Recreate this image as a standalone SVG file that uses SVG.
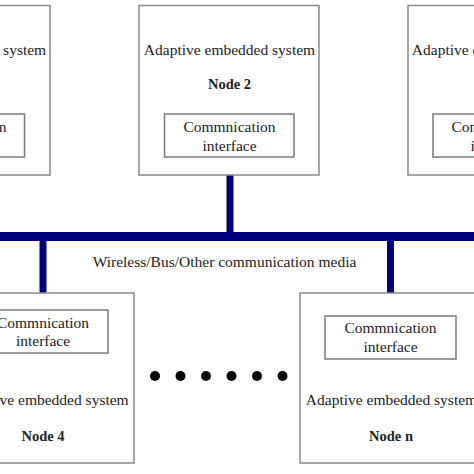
<svg xmlns="http://www.w3.org/2000/svg" width="474" height="474" viewBox="0 0 474 474">
<style>
.box{fill:#fff;stroke:#8a8a8a;stroke-width:1.5}
.ibox{fill:#fff;stroke:#7a7a7a;stroke-width:1.5}
.t{font-family:"Liberation Serif","Times New Roman",serif;font-size:15.5px;fill:#222;text-anchor:middle}
.b{font-weight:bold;font-size:14.5px}
.bus{stroke:#00007f;fill:none}
</style>
<rect width="474" height="474" fill="#fff"/>
<g id="connectors">
<line class="bus" x1="0" y1="236.5" x2="474" y2="236.5" stroke-width="9"/>
<line class="bus" x1="230" y1="157" x2="230" y2="234" stroke-width="7"/>
<line class="bus" x1="43" y1="239" x2="43" y2="310" stroke-width="7"/>
<line class="bus" x1="390.5" y1="239" x2="390.5" y2="316" stroke-width="7"/>
<text class="t" x="224.5" y="267">Wireless/Bus/Other communication media</text>
</g>
<g id="node1">
<rect class="box" x="-129" y="5.5" width="179" height="169.5"/>
<text class="t" x="-39.5" y="55">Adaptive embedded system</text>
<rect class="ibox" x="-104.5" y="114" width="129" height="43"/>
<text class="t" x="-39.5" y="132">Commnication</text>
<text class="t" x="-39.5" y="151">interface</text>
</g>
<g id="node2">
<rect class="box" x="139" y="5.5" width="180" height="169.5"/>
<text class="t" x="229.5" y="55">Adaptive embedded system</text>
<text class="t b" x="229.5" y="89">Node 2</text>
<rect class="ibox" x="164.5" y="114" width="129.5" height="43"/>
<text class="t" x="229.5" y="132">Commnication</text>
<text class="t" x="229.5" y="151">interface</text>
</g>
<g id="node3">
<rect class="box" x="408" y="5.5" width="180" height="169.5"/>
<text class="t" x="497.5" y="55">Adaptive embedded system</text>
<rect class="ibox" x="433" y="114" width="130" height="43"/>
<text class="t" x="497.5" y="132">Commnication</text>
<text class="t" x="497.5" y="151">interface</text>
</g>
<g id="node4">
<rect class="box" x="-46" y="293" width="180" height="170"/>
<rect class="ibox" x="-22" y="310" width="130" height="43"/>
<text class="t" x="43" y="327.5">Commnication</text>
<text class="t" x="43" y="346">interface</text>
<text class="t" x="43" y="405">Adaptive embedded system</text>
<text class="t b" x="43" y="441">Node 4</text>
</g>
<g id="dots" fill="#000">
<circle cx="155" cy="376" r="5"/>
<circle cx="180.5" cy="376" r="5"/>
<circle cx="206" cy="376" r="5"/>
<circle cx="231.5" cy="376" r="5"/>
<circle cx="257" cy="376" r="5"/>
<circle cx="282.5" cy="376" r="5"/>
</g>
<g id="noden">
<rect class="box" x="300" y="293" width="182" height="170"/>
<rect class="ibox" x="325" y="316" width="131" height="43"/>
<text class="t" x="390.5" y="333">Commnication</text>
<text class="t" x="390.5" y="352">interface</text>
<text class="t" x="391.5" y="405">Adaptive embedded system</text>
<text class="t b" x="391" y="441">Node n</text>
</g>
</svg>
